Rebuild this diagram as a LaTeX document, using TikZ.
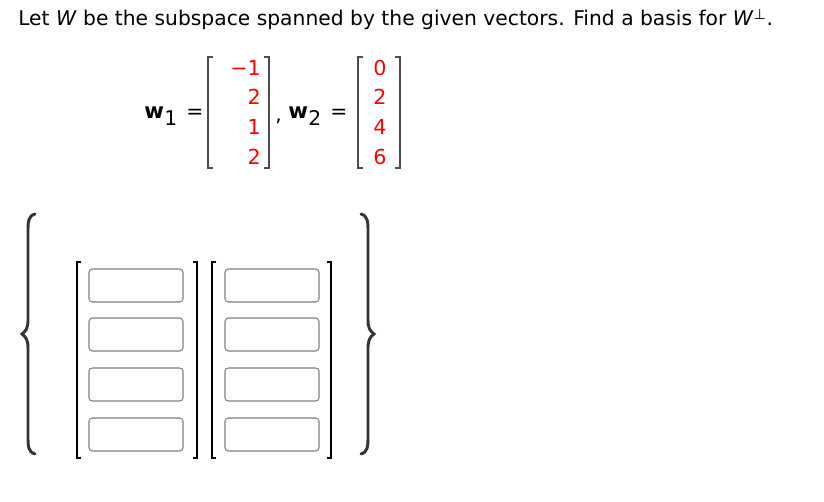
\documentclass[tikz,border=0pt]{standalone}
\usepackage{fontspec}
\setmainfont{DejaVu Sans}
\begin{document}
\begin{tikzpicture}[x=0.75pt,y=-0.75pt,
  txt/.style={inner sep=0pt,anchor=base west,font=\fontsize{15.2}{18}\selectfont},
  ent/.style={inner sep=0pt,anchor=base,text=red,font=\fontsize{15.5}{18}\selectfont},
  brk/.style={draw=black!70,line width=1.6pt},
  sbrk/.style={draw=black,line width=0.9pt},
  ansbox/.style={draw=black!50,rounded corners=2.5pt,line width=0.8pt},
  brace/.style={draw=black!80,line width=2.2pt,line cap=round}]
\useasboundingbox (0,0) rectangle (824,502);
\node[txt] (title) at (18,26) {Let \textit{W} be the subspace spanned by the given vectors. Find a basis for \textit{W}\textsuperscript{⊥}.};
% w1
\node[txt,font=\bfseries\fontsize{16}{18}\selectfont] (w1) at (144,119) {w};
\node[txt] (w1s) at (164,126) {1};
\node[txt] (eq1) at (186,119) {=};
\draw[brk] (213,57) -- (208,57) -- (208,168) -- (213,168);
\draw[brk] (264,57) -- (269,57) -- (269,168) -- (264,168);
\node[ent,anchor=base east] (a1) at (261,76) {−1};
\node[ent,anchor=base east] (a2) at (261,105) {2};
\node[ent,anchor=base east] (a3) at (261,135) {1};
\node[ent,anchor=base east] (a4) at (261,165) {2};
\node[txt] (comma) at (275,122) {,};
\node[txt,font=\bfseries\fontsize{16}{18}\selectfont] (w2) at (288,119) {w};
\node[txt] (w2s) at (308,126) {2};
\node[txt] (eq2) at (330,119) {=};
\draw[brk] (363,57) -- (358,57) -- (358,168) -- (363,168);
\draw[brk] (395,57) -- (400,57) -- (400,168) -- (395,168);
\node[ent] (b1) at (380,76) {0};
\node[ent] (b2) at (380,105) {2};
\node[ent] (b3) at (380,135) {4};
\node[ent] (b4) at (380,165) {6};
% braces
\draw[brace] (35,214) .. controls (28,216) and (28,222) .. (28,232) -- (28,320) .. controls (28,328) and (26,331) .. (22,334)
  .. controls (26,337) and (28,340) .. (28,348) -- (28,436) .. controls (28,446) and (28,452) .. (35,454);
\draw[brace] (361,214) .. controls (368,216) and (368,222) .. (368,232) -- (368,320) .. controls (368,328) and (370,331) .. (374,334)
  .. controls (370,337) and (368,340) .. (368,348) -- (368,436) .. controls (368,446) and (368,452) .. (361,454);
% answer brackets
\draw[sbrk] (81,262) -- (77,262) -- (77,458) -- (81,458);
\draw[sbrk] (193,262) -- (197,262) -- (197,458) -- (193,458);
\draw[sbrk] (216,262) -- (212,262) -- (212,458) -- (216,458);
\draw[sbrk] (327,262) -- (331,262) -- (331,458) -- (327,458);
\foreach \y [count=\i] in {269,318,368,418}{
  \draw[ansbox] (89,\y) rectangle (183,\y+33);
  \draw[ansbox] (225,\y) rectangle (319,\y+33);
}
\end{tikzpicture}
\end{document}
